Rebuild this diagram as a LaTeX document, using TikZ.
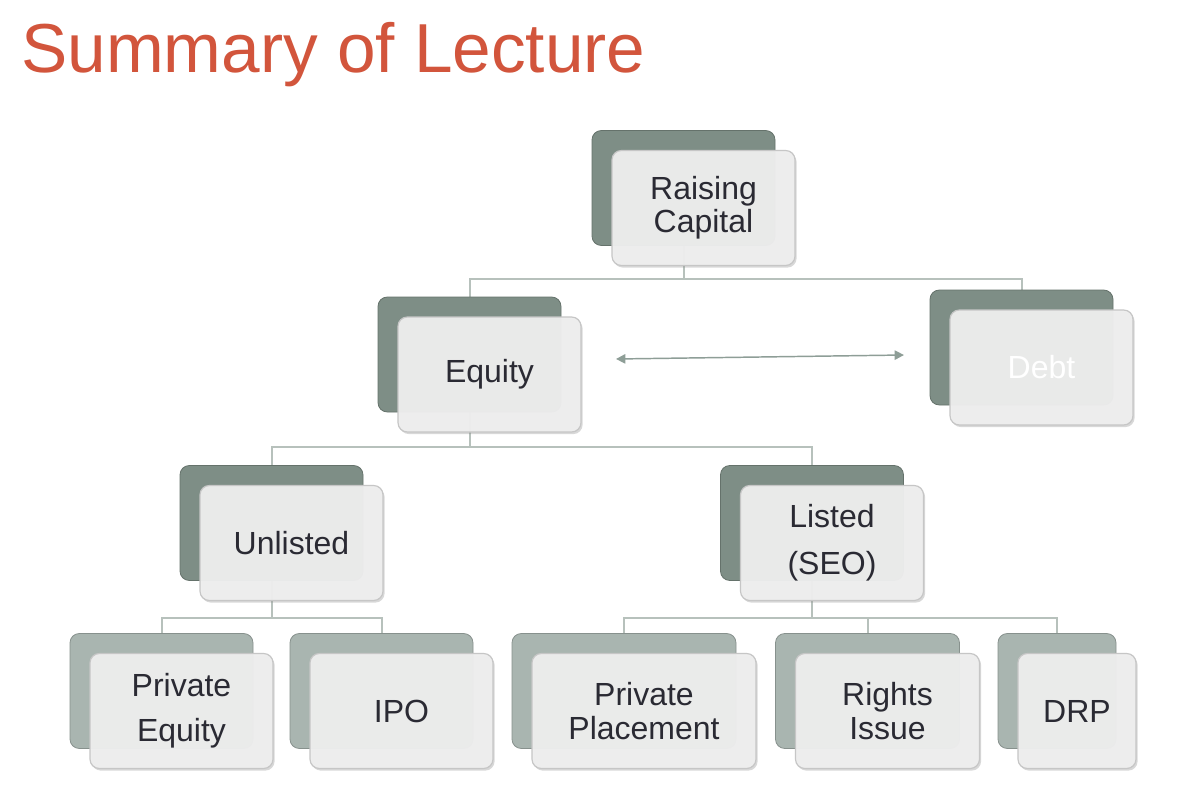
\documentclass[tikz,border=0pt]{standalone}
\usepackage{fontspec}
\setmainfont{Liberation Sans}
\usetikzlibrary{shadows,backgrounds,arrows.meta}
\definecolor{titlered}{HTML}{D2553C}
\definecolor{backdark}{HTML}{7E8E86}
\definecolor{backlight}{HTML}{A9B5B0}
\definecolor{frontfill}{HTML}{EEEEEE}
\definecolor{frontedge}{HTML}{C6C6C6}
\definecolor{linecol}{HTML}{B7C1BC}
\definecolor{arrowcol}{HTML}{8E9E97}
\definecolor{textcol}{HTML}{2A2A33}
\tikzset{
  backbox/.style={draw=#1!80!black, fill=#1, rounded corners=7pt, line width=0.6pt, inner sep=0pt},
  frontbox/.style={draw=frontedge, fill=frontfill, rounded corners=7pt, line width=0.9pt,
    fill opacity=0.96, text opacity=1, inner sep=0pt,
    drop shadow={shadow xshift=1.2pt, shadow yshift=-1.6pt, opacity=0.3},
    font=\fontsize{24}{25}\selectfont, text=textcol, align=center},
  conn/.style={draw=linecol, line width=1.5pt},
  dblarrow/.style={draw=arrowcol, line width=1.1pt, {Triangle[length=7pt,width=7pt]}-{Triangle[length=7pt,width=7pt]}}
}
\newcommand\stackbox[7]{%
  \node[backbox=#6, minimum width=#4*0.75pt, minimum height=115*0.75pt] (#1b) at (#2,#3) {};
  \node[frontbox, minimum width=#4*0.75pt, minimum height=115*0.75pt, #7] (#1) at ([shift={(20,20)}]#1b.center) {#5};
}
\begin{document}
\begin{tikzpicture}[x=0.75pt, y=-0.75pt]
\useasboundingbox (0,0) rectangle (1200,799);
\node[anchor=base west, inner sep=0pt, text=titlered, font=\fontsize{52}{60}\selectfont] (title) at (21,73) {Summary of Lecture};

\stackbox{rc}{683.5}{188}{183}{Raising\\Capital}{backdark}{}
\stackbox{eq}{469.5}{354.5}{183}{Equity}{backdark}{}
\stackbox{debt}{1021.5}{347.5}{183}{Debt}{backdark}{text=white}
\stackbox{unl}{271.5}{523}{183}{Unlisted}{backdark}{}
\stackbox{lst}{812}{523}{183}{Listed\\[10.5pt](SEO)}{backdark}{}
\stackbox{pe}{161.5}{691}{183}{Private\\[9pt]Equity}{backlight}{}
\stackbox{ipo}{381.5}{691}{183}{IPO}{backlight}{}
\stackbox{pp}{624}{691}{224}{Private\\Placement}{backlight}{}
\stackbox{ri}{867.5}{691}{184}{Rights\\Issue}{backlight}{}
\stackbox{drp}{1057}{691}{118}{DRP}{backlight}{}

\coordinate (al) at (616,359);
\coordinate (ar) at (904,355);
\draw[dblarrow] (al) -- (ar);

\begin{pgfonlayer}{background}
\fill[white] (0,0) rectangle (1200,799);
\path (rcb.south) ++(0,33) coordinate (rcj);
\draw[conn] (rcb.south) -- (rcj) -| (eqb.north);
\draw[conn] (rcj) -| (debtb.north);
\path (eqb.south) ++(0,35) coordinate (eqj);
\draw[conn] (eqb.south) -- (eqj) -| (unlb.north);
\draw[conn] (eqj) -| (lstb.north);
\path (unlb.south) ++(0,37) coordinate (unlj);
\draw[conn] (unlb.south) -- (unlj) -| (peb.north);
\draw[conn] (unlj) -| (ipob.north);
\path (lstb.south) ++(0,37) coordinate (lstj);
\draw[conn] (lstb.south) -- (lstj) -| (ppb.north);
\draw[conn] (lstj) -| (rib.north);
\draw[conn] (lstj) -| (drpb.north);
\end{pgfonlayer}
\end{tikzpicture}
\end{document}
